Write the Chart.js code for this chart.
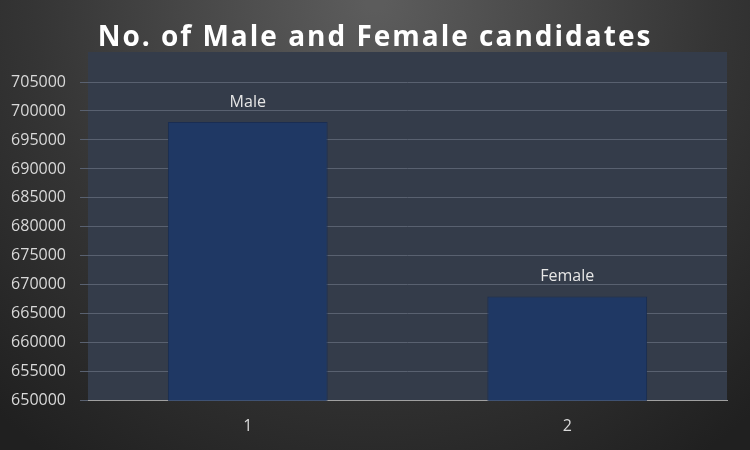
<!DOCTYPE html>
<html><head><meta charset="utf-8">
<script src="https://cdn.jsdelivr.net/npm/chart.js@4"></script>
<style>html,body{margin:0;padding:0;background:#2a2a2a}#w{width:750px;height:450px}</style>
</head><body><div id="w"><canvas id="c"></canvas></div>
<script>
const categories = ['1', '2'];
const seriesNames = ['Male', 'Female'];
const values = [698100, 668000];
const yTicks = [650000, 705000, 5000];
const titleText = 'No. of Male and Female candidates';

const bg = {
  id: 'bg',
  beforeDraw(ch) {
    const {ctx, width, height, chartArea: a} = ch;
    const g = ctx.createRadialGradient(width/2, 0, 10, width/2, 0, 560);
    g.addColorStop(0, '#5c5c5c'); g.addColorStop(0.6, '#353535'); g.addColorStop(1, '#202020');
    ctx.save(); ctx.fillStyle = g; ctx.fillRect(0, 0, width, height);
    ctx.fillStyle = '#343c4a'; ctx.fillRect(a.left, 52, a.right - a.left, a.bottom - 52);
    ctx.restore();
  },
  afterDatasetsDraw(ch) {
    const {ctx} = ch; const meta = ch.getDatasetMeta(0);
    ctx.save(); ctx.fillStyle = '#e6e6e6'; ctx.font = '16px "Open Sans", sans-serif';
    ctx.textAlign = 'center'; ctx.textBaseline = 'bottom';
    meta.data.forEach((b, i) => ctx.fillText(seriesNames[i], b.x, b.y - 12));
    ctx.fillStyle = '#ffffff'; ctx.font = 'bold 28px "Open Sans", sans-serif';
    ctx.letterSpacing = '2px'; ctx.textBaseline = 'middle';
    ctx.fillText(titleText, 375, 38);
    ctx.restore();
  }
};

new Chart(document.getElementById('c'), {
  type: 'bar',
  data: { labels: categories, datasets: [{ data: values, backgroundColor: '#1f3864', borderColor: '#1a2d52', borderWidth: 1, categoryPercentage: 0.5, barPercentage: 1 }] },
  options: {
    responsive: true, maintainAspectRatio: false, animation: false,
    layout: { padding: { top: 82, right: 23, bottom: 6 } },
    plugins: { legend: { display: false }, tooltip: { enabled: false }, title: { display: false } },
    scales: {
      x: { grid: { display: false }, border: { color: '#a0a0a0' },
        ticks: { color: '#d9d9d9', font: { size: 16, family: '"Open Sans", sans-serif' }, padding: 8 } },
      y: { min: yTicks[0], max: yTicks[1], afterFit(s) { s.width = 88; },
        grid: { color: '#596170' }, border: { display: false },
        ticks: { stepSize: yTicks[2], color: '#d9d9d9', font: { size: 16, family: '"Open Sans", sans-serif' }, padding: 14,
          callback: v => String(v) } }
    }
  },
  plugins: [bg]
});
</script></body></html>
